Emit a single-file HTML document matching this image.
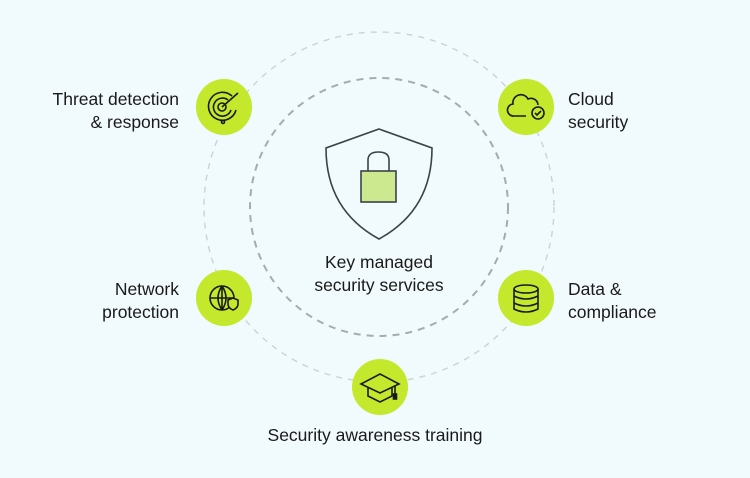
<!DOCTYPE html>
<html><head><meta charset="utf-8"><style>
html,body{margin:0;padding:0;background:#f1fafc;}
body{width:750px;height:478px;overflow:hidden;position:relative;font-family:"Liberation Sans",sans-serif;color:#1a1a1a;}
.t{position:absolute;font-size:17.5px;line-height:23px;}
.r{text-align:right;}
</style></head><body>
<svg width="750" height="478" style="position:absolute;left:0;top:0">
<circle cx="379" cy="207" r="175" fill="none" stroke="#cdd2d4" stroke-width="1.4" stroke-dasharray="6 6"/>
<circle cx="379" cy="207" r="129" fill="none" stroke="#a6abad" stroke-width="2" stroke-dasharray="7 6"/>
<g fill="#c4e82c">
<circle cx="224" cy="107" r="28"/><circle cx="526" cy="107" r="28"/>
<circle cx="224" cy="298" r="28"/><circle cx="526" cy="298" r="28"/>
<circle cx="380" cy="387" r="28"/>
</g>
<path d="M379 129 L432 148 Q432 210 379 239 Q326 210 326 148 Z" fill="#f1fafc" stroke="#3a4348" stroke-width="1.6"/>
<path d="M368 171 V160 Q368 152 378.5 152 Q389 152 389 160 V171" fill="none" stroke="#3a4348" stroke-width="1.6"/>
<rect x="361" y="171" width="35" height="31" fill="#cce98f" stroke="#3a4348" stroke-width="1.6"/>
<g fill="none" stroke="#1a1a1a" stroke-width="1.6">
<path d="M232 96 A14 14 0 1 0 236 110"/><path d="M228 100 A9 9 0 1 0 231 110"/><circle cx="222" cy="107" r="4"/><path d="M222 107 L238 93"/><circle cx="223" cy="122" r="1.5"/>
<path d="M526 116 H514 A6 6 0 0 1 513 104 A8 8 0 0 1 528 99 A7 7 0 0 1 538 105"/><circle cx="538" cy="113" r="6"/><path d="M535 113 l2 2 l4 -4"/>
<circle cx="222" cy="298" r="12"/><path d="M210 298 H234 M222 286 V310 M222 286 Q214 298 222 310 M222 286 Q230 298 222 310"/>
<path d="M228 300 l5 -2 l5 2 v4 q0 4 -5 6 q-5 -2 -5 -6z" fill="#c4e82c"/>
<ellipse cx="526" cy="289" rx="12" ry="4"/><path d="M514 289 V309 Q526 315 538 309 V289 M514 296 Q526 302 538 296 M514 303 Q526 309 538 303"/>
<path d="M380 374 L399 384 L380 393 L361 384 Z"/><path d="M368 388 V396 L380 402 L392 396 V388"/><path d="M395 386 V395"/><rect x="393.5" y="394" width="3" height="5" fill="#1a1a1a"/>
</g>
</svg>
<div class="t r" style="right:571px;top:88px">Threat detection<br>&amp; response</div>
<div class="t" style="left:568px;top:88px">Cloud<br>security</div>
<div class="t r" style="right:571px;top:278px">Network<br>protection</div>
<div class="t" style="left:568px;top:278px">Data &amp;<br>compliance</div>
<div class="t" style="left:279px;width:200px;text-align:center;top:251px">Key managed<br>security services</div>
<div class="t" style="left:225px;width:300px;text-align:center;top:424px">Security awareness training</div>
</body></html>
